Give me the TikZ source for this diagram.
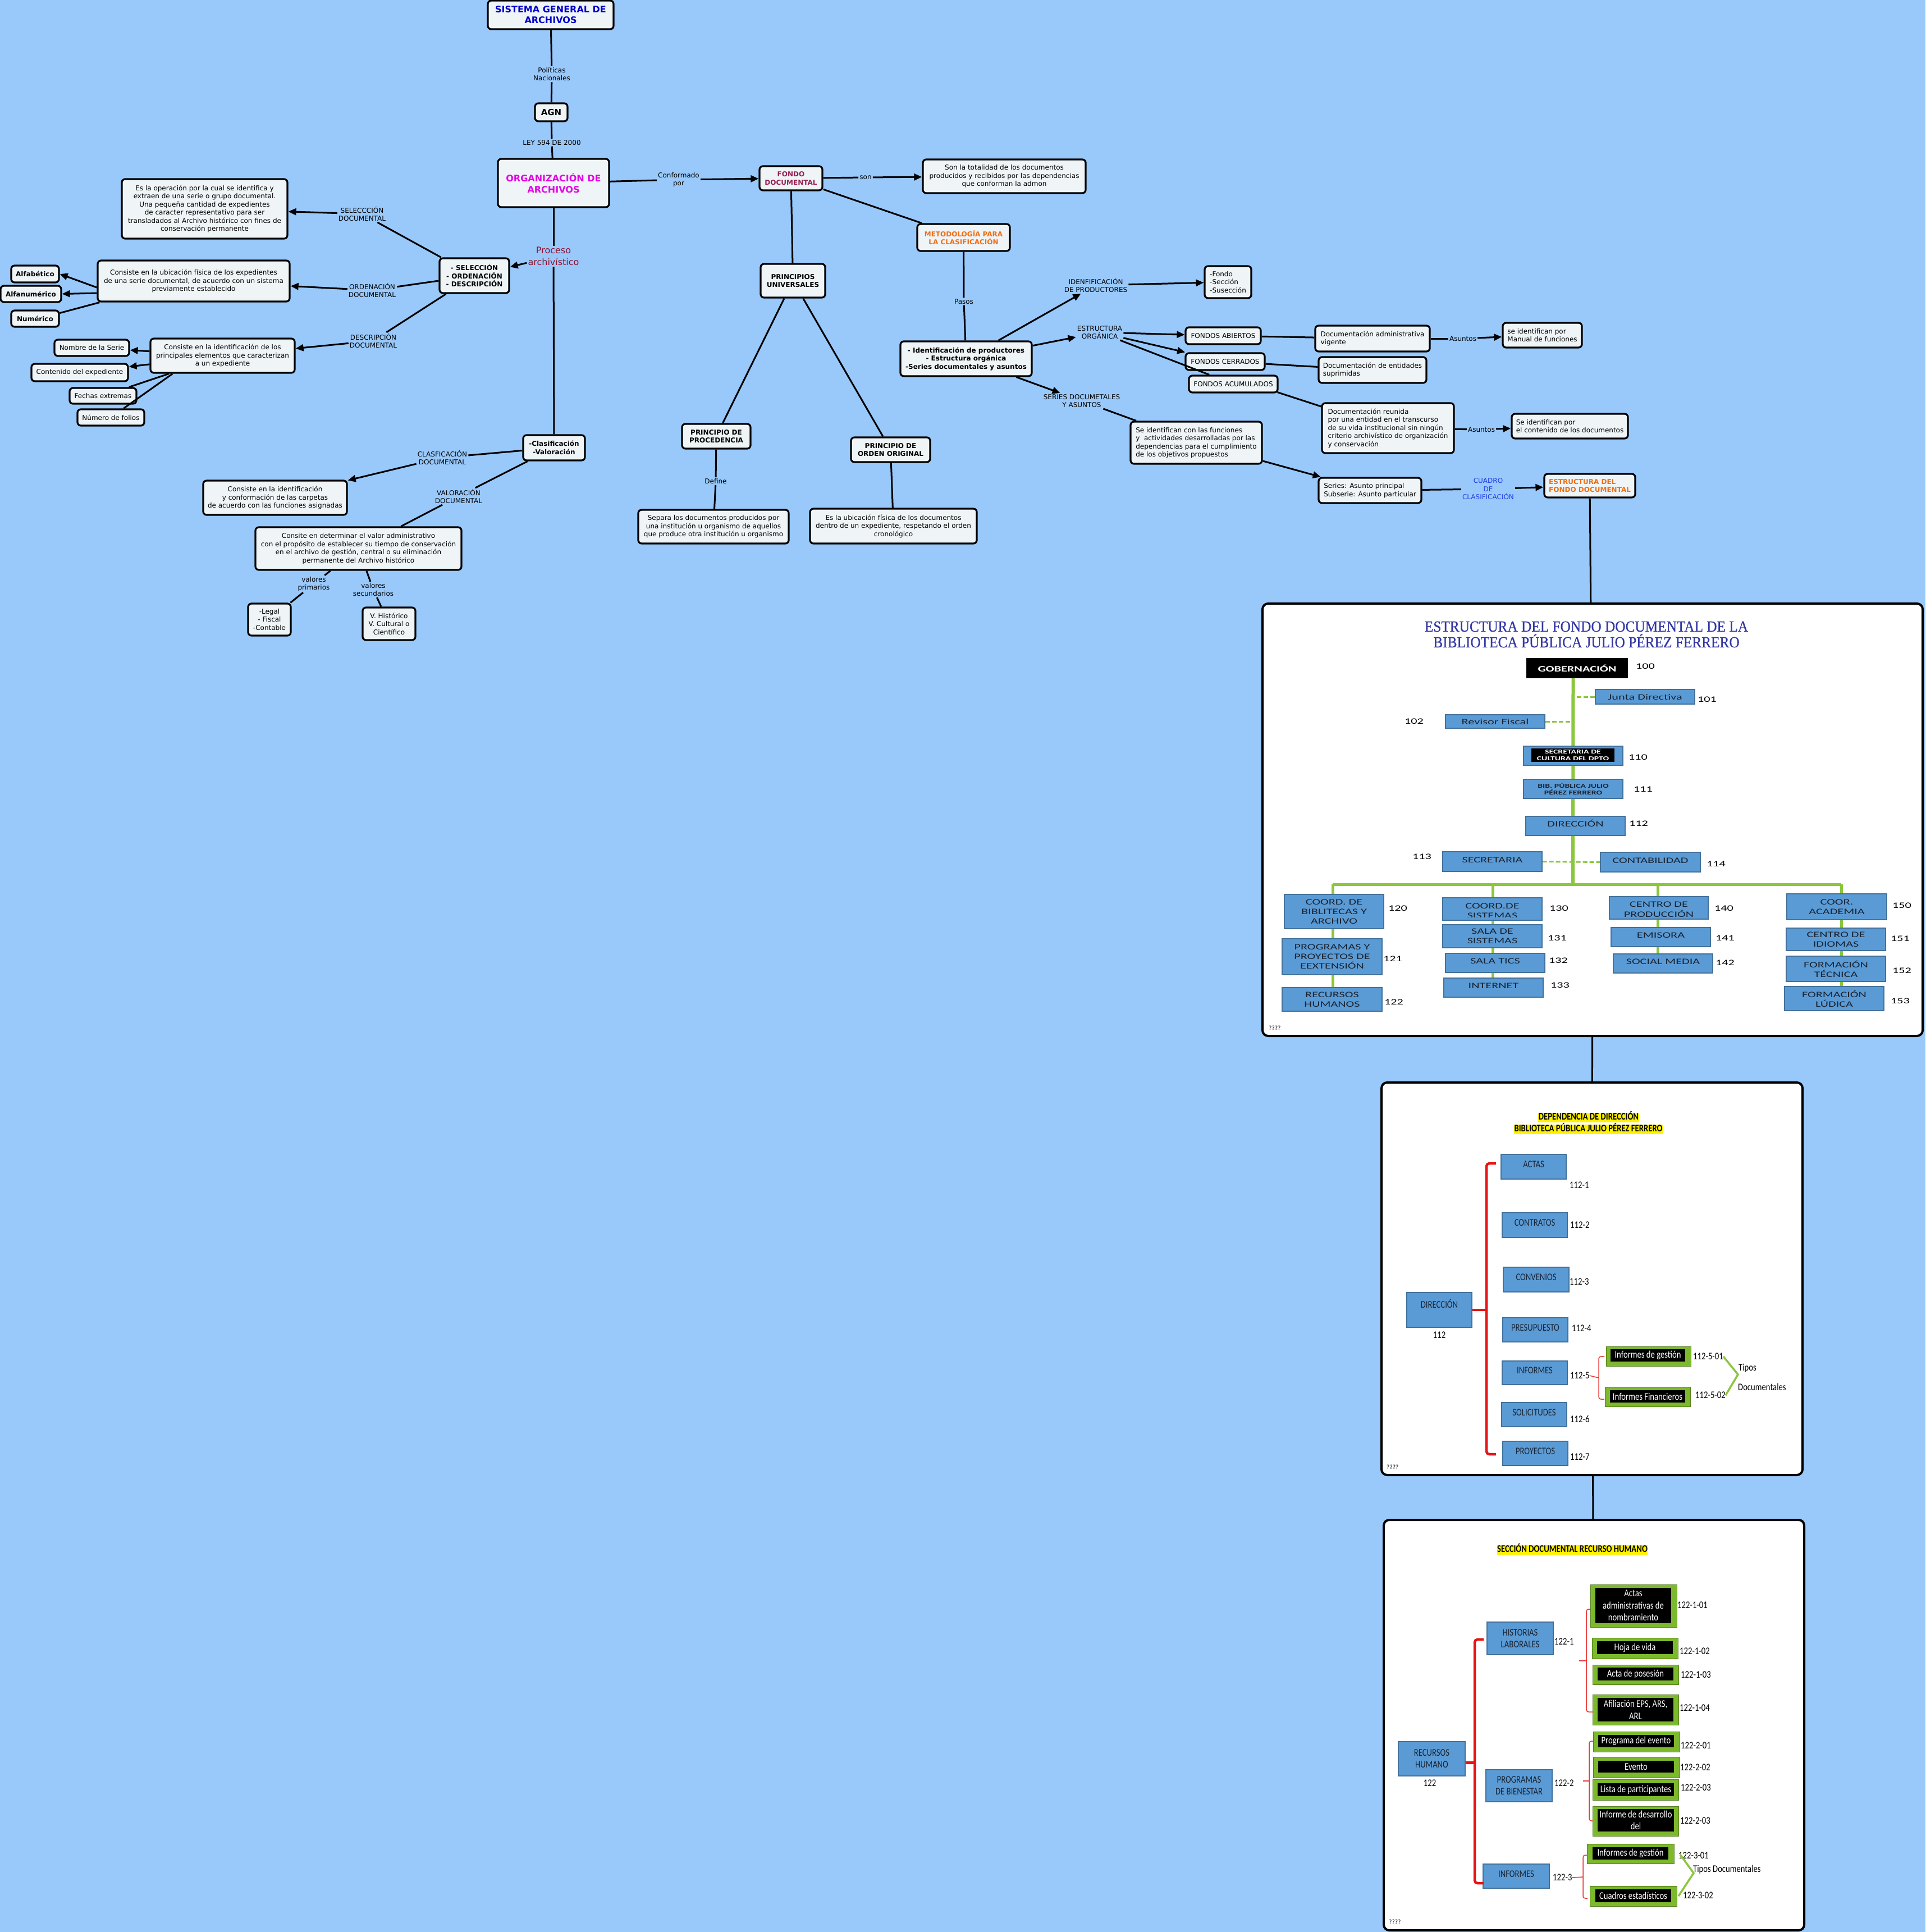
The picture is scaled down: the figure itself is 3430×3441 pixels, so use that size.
\documentclass[tikz,border=0pt]{standalone}
\usepackage{fontspec}
\setmainfont{DejaVu Sans}
\newfontfamily\pone[FakeStretch=1.5]{Carlito}
\newfontfamily\ptwo[FakeStretch=0.815]{Carlito}
\newfontfamily\ptitle[FakeStretch=0.92,FakeBold=0.6]{Liberation Serif}
\usetikzlibrary{arrows.meta}
\pgfdeclarelayer{back}
\pgfdeclarelayer{lines}
\pgfsetlayers{back,lines,main}
\definecolor{bgblue}{RGB}{153,201,251}
\definecolor{boxfill}{RGB}{239,244,246}
\definecolor{sgablue}{RGB}{0,0,204}
\definecolor{orgmag}{RGB}{230,0,230}
\definecolor{fondored}{RGB}{150,30,80}
\definecolor{procred}{RGB}{140,20,50}
\definecolor{orangeA}{RGB}{240,110,20}
\definecolor{cuadblue}{RGB}{30,60,230}
\definecolor{orgblue}{RGB}{91,155,213}
\definecolor{orgborder}{RGB}{65,113,156}
\definecolor{orgtext}{RGB}{25,35,50}
\definecolor{lgreen}{RGB}{140,198,63}
\definecolor{gboxc}{RGB}{125,185,45}
\definecolor{redb}{RGB}{230,20,20}
\definecolor{titleblue}{RGB}{50,55,165}
\newcommand\cfont{\fontsize{12}{14.5}\selectfont}
\tikzset{
 cbox/.style={draw=black, line width=3.2pt, rounded corners=6pt, fill=boxfill, align=center, inner sep=0pt, font=\cfont},
 cboxl/.style={cbox, align=left},
 hb/.style={cbox, font=\bfseries\cfont},
 lab/.style={align=center, inner sep=2pt, font=\cfont},
 conn/.style={line width=3pt, draw=black},
 arr/.style={conn, -{Triangle[length=14pt,width=12pt]}},
 panel/.style={draw=black, line width=4pt, rounded corners=10pt, fill=white, inner sep=0pt},
 ob/.style={rectangle, fill=orgblue, draw=orgborder, line width=1.2pt, text=orgtext, font=\pone\fontsize{14.8}{17}\selectfont, align=center, inner sep=0pt},
 obtop/.style={text height=10pt, text depth=7pt},
 onum/.style={font=\pone\fontsize{14.8}{17}\selectfont, inner sep=0pt, text=black},
 gline/.style={draw=lgreen, line width=5pt},
 gdash/.style={draw=lgreen, line width=3pt, dash pattern=on 8pt off 4pt},
 tb/.style={rectangle, fill=orgblue, draw=orgborder, line width=1.2pt, text=orgtext, font=\ptwo\fontsize{18}{21}\selectfont, align=center, inner sep=0pt},
 tbtop/.style={text height=12pt, text depth=8.5pt},
 tnum/.style={font=\ptwo\fontsize{18}{21}\selectfont, inner sep=0pt, text=black, anchor=west},
 gbox/.style={rectangle, fill=gboxc, draw=gboxc!70!black, line width=0.8pt, inner sep=0pt},
 kbox/.style={rectangle, fill=black, text=white, font=\ptwo\fontsize{18}{21.5}\selectfont, align=center, inner sep=0pt},
 redbr/.style={draw=redb, line width=4.5pt, rounded corners=5pt},
 redthin/.style={draw=redb!85!white, line width=1.5pt, rounded corners=4pt},
 gbr/.style={draw=lgreen, line width=3.5pt},
 hl/.style={fill=yellow, inner xsep=0.5pt, inner ysep=0pt, text height=13pt, text depth=4pt, font=\ptwo\bfseries\fontsize{18}{21}\selectfont},
 qq/.style={font=\fontsize{10}{12}\selectfont, inner sep=0pt, anchor=west},
}
\begin{document}
\begin{tikzpicture}[x=1pt,y=-1pt]
\useasboundingbox (0,0) rectangle (3430,3441);
\begin{pgfonlayer}{back}
\fill[bgblue] (0,0) rectangle (3430,3441);
\node[panel, minimum width=1176pt, minimum height=770pt] (p1) at (2837,1460) {};
\node[panel, minimum width=750pt, minimum height=699pt] (p2) at (2836,2277.5) {};
\node[panel, minimum width=749pt, minimum height=731pt] (p3) at (2839.5,3072.5) {};
\end{pgfonlayer}

% ---------------- concept map ----------------
\node[cbox, minimum width=224pt, minimum height=51pt, text=sgablue, font=\bfseries\fontsize{16}{19}\selectfont] (sga) at (981,26.5) {SISTEMA GENERAL DE\\ARCHIVOS};
\node[lab] (lpol) at (983,132) {Políticas\\Nacionales};
\node[cbox, minimum width=58pt, minimum height=32pt, font=\bfseries\fontsize{15}{18}\selectfont] (agn) at (982,200) {AGN};
\node[lab] (lley) at (983,254) {LEY 594 DE 2000};
\node[cbox, minimum width=198pt, minimum height=86pt, text=orgmag, font=\bfseries\fontsize{16}{19.5}\selectfont] (org) at (986,326) {ORGANIZACIÓN DE\\ARCHIVOS};
\node[lab, text=procred, font=\fontsize{16}{21}\selectfont] (lproc) at (986,456.5) {Proceso\\archivístico};
\node[hb, minimum width=124pt, minimum height=62pt] (sel) at (845,491) {- SELECCIÓN\\- ORDENACIÓN\\- DESCRIPCIÓN};
\node[cbox, minimum width=295pt, minimum height=106pt] (seldesc) at (364.5,372) {Es la operación por la cual se identifica y\\extraen de una serie o grupo documental.\\Una pequeña cantidad de expedientes\\de caracter representativo para ser\\transladados al Archivo histórico con fines de\\conservación permanente};
\node[lab] (lsel) at (645,381) {SELECCCIÓN\\DOCUMENTAL};
\node[cbox, minimum width=342pt, minimum height=73pt] (orddesc) at (345,500.5) {Consiste en la ubicación física de los expedientes\\de una serie documental, de acuerdo con un sistema\\previamente establecido};
\node[lab] (lord) at (663,517) {ORDENACIÓN\\DOCUMENTAL};
\node[hb, minimum width=85pt, minimum height=30pt] (alfab) at (62.5,488) {Alfabético};
\node[hb, minimum width=108pt, minimum height=29pt] (alfan) at (55,523.5) {Alfanumérico};
\node[hb, minimum width=85pt, minimum height=29pt] (numer) at (62.5,567.5) {Numérico};
\node[lab] (ldesc) at (665,607) {DESCRIPCIÓN\\DOCUMENTAL};
\node[cbox, minimum width=257pt, minimum height=61pt] (descdesc) at (396.5,633.5) {Consiste en la identificación de los\\principales elementos que caracterizan\\a un expediente};
\node[cbox, minimum width=133pt, minimum height=29pt] (nombre) at (163.5,619.5) {Nombre de la Serie};
\node[cbox, minimum width=172pt, minimum height=31pt] (conten) at (142,663.5) {Contenido del expediente};
\node[cbox, minimum width=119pt, minimum height=28pt] (fechas) at (183.5,705) {Fechas extremas};
\node[cbox, minimum width=119pt, minimum height=29pt] (folios) at (197.5,743.5) {Número de folios};
\node[hb, minimum width=110pt, minimum height=45pt] (clas) at (987,797.5) {-Clasificación\\-Valoración};
\node[lab] (lclas) at (788,815) {CLASFICACIÓN\\DOCUMENTAL};
\node[cbox, minimum width=256pt, minimum height=61pt] (clasdesc) at (490,886.5) {Consiste en la identificación\\y conformación de las carpetas\\de acuerdo con las funciones asignadas};
\node[lab] (lval) at (817,884) {VALORACIÓN\\DOCUMENTAL};
\node[cbox, minimum width=367pt, minimum height=76pt] (valdesc) at (638.5,977) {Consite en determinar el valor administrativo\\con el propósito de establecer su tiempo de conservación\\en el archivo de gestión, central o su eliminación\\permanente del Archivo histórico};
\node[lab] (lvp) at (559,1040) {valores\\primarios};
\node[cbox, minimum width=76pt, minimum height=57pt] (legal) at (480,1103.5) {-Legal\\- Fiscal\\-Contable};
\node[lab] (lvs) at (665,1050) {valores\\secundarios};
\node[cbox, minimum width=94pt, minimum height=58pt] (vhist) at (693,1111) {V. Histórico\\V. Cultural o\\Científico};

\node[lab] (lconf) at (1209,320) {Conformado\\por};
\node[hb, minimum width=112pt, minimum height=43pt, text=fondored] (fondo) at (1409,317.5) {FONDO\\DOCUMENTAL};
\node[lab] (lson) at (1542,316) {son};
\node[cbox, minimum width=290pt, minimum height=60pt] (sondesc) at (1789,314) {Son la totalidad de los documentos\\producidos y recibidos por las dependencias\\que conforman la admon};
\node[hb, minimum width=165pt, minimum height=48pt, text=orangeA] (metod) at (1716.5,423) {METODOLOGÍA PARA\\LA CLASIFICACIÓN};
\node[hb, minimum width=115pt, minimum height=60pt] (pu) at (1412.5,500) {PRINCIPIOS\\UNIVERSALES};
\node[hb, minimum width=122pt, minimum height=44pt] (proc) at (1276,777) {PRINCIPIO DE\\PROCEDENCIA};
\node[hb, minimum width=141pt, minimum height=44pt] (orden) at (1586.5,801) {PRINCIPIO DE\\ORDEN ORIGINAL};
\node[lab] (ldef) at (1275,857) {Define};
\node[cbox, minimum width=268pt, minimum height=60pt] (separa) at (1271,938) {Separa los documentos producidos por\\una institución u organismo de aquellos\\que produce otra institución u organismo};
\node[cbox, minimum width=297pt, minimum height=62pt] (ubic) at (1591.5,937) {Es la ubicación física de los documentos\\dentro de un expediente, respetando el orden\\cronológico};
\node[lab] (lpasos) at (1717,537) {Pasos};
\node[hb, minimum width=234pt, minimum height=62pt] (idb) at (1721,639) {- Identificación de productores\\- Estructura orgánica\\-Series documentales y asuntos};
\node[lab] (lidf) at (1952,508) {IDENFIFICACIÓN\\DE PRODUCTORES};
\node[cboxl, minimum width=83pt, minimum height=57pt] (fss) at (2187.5,502.5) {-Fondo\\-Sección\\-Susección};
\node[lab] (lest) at (1959,592) {ESTRUCTURA\\ORGÁNICA};
\node[cbox, minimum width=134pt, minimum height=30pt] (fab) at (2179,598) {FONDOS ABIERTOS};
\node[cbox, minimum width=141pt, minimum height=30pt] (fce) at (2182.5,644) {FONDOS CERRADOS};
\node[cbox, minimum width=158pt, minimum height=30pt] (fac) at (2197,684) {FONDOS ACUMULADOS};
\node[cboxl, minimum width=204pt, minimum height=46pt] (docadm) at (2445,603) {Documentación administrativa\\vigente};
\node[lab] (las1) at (2606,603) {Asuntos};
\node[cboxl, minimum width=141pt, minimum height=44pt] (manual) at (2747.5,597) {se identifican por\\Manual de funciones};
\node[cboxl, minimum width=192pt, minimum height=46pt] (docsup) at (2445,659) {Documentación de entidades\\suprimidas};
\node[cboxl, minimum width=235pt, minimum height=89pt] (docreun) at (2472.5,762.5) {Documentación reunida\\por una entidad en el transcurso\\de su vida institucional sin ningún\\criterio archivístico de organización\\y conservación};
\node[lab] (las2) at (2639,765) {Asuntos};
\node[cboxl, minimum width=207pt, minimum height=44pt] (contd) at (2796.5,759) {Se identifican por\\el contenido de los documentos};
\node[lab] (lser) at (1927,714) {SERIES DOCUMETALES\\Y ASUNTOS};
\node[cboxl, minimum width=234pt, minimum height=75pt] (seid) at (2131,788.5) {Se identifican con las funciones\\y\ \ actividades desarrolladas por las\\dependencias para el cumplimiento\\de los objetivos propuestos};
\node[cboxl, minimum width=183pt, minimum height=45pt] (series) at (2440.5,873.5) {Series: Asunto principal\\Subserie: Asunto particular};
\node[lab, text=cuadblue] (lcuad) at (2651,871) {CUADRO\\DE\\CLASIFICACIÓN};
\node[hb, align=left, minimum width=162pt, minimum height=42pt, text=orangeA] (estr) at (2832,865) {ESTRUCTURA DEL\\FONDO DOCUMENTAL};

% connectors
\draw[conn] (sga) -- (lpol);
\draw[conn] (lpol) -- (agn);
\draw[conn] (agn) -- (lley);
\draw[conn] (lley) -- (org);
\draw[conn] (org) -- (lproc);
\draw[arr] (lproc) -- (sel);
\draw[conn] (lproc) -- (clas);
\draw[conn] (sel) -- (lsel);
\draw[arr] (lsel) -- (seldesc);
\draw[conn] (sel) -- (lord);
\draw[arr] (lord) -- (orddesc);
\draw[arr] ([yshift=-11.5pt]orddesc.west) -- (alfab.east);
\draw[arr] ([yshift=-21.5pt]orddesc.west) -- (alfan.east);
\draw[conn] ([xshift=5pt]orddesc.south west) -- ([yshift=10pt]numer.east);
\draw[conn] (sel) -- (ldesc);
\draw[arr] (ldesc) -- (descdesc);
\draw[arr] (descdesc) -- (nombre);
\draw[arr] (descdesc) -- (conten);
\draw[conn] (descdesc) -- (fechas);
\draw[conn] ([xshift=41pt]descdesc.south west) -- (folios);
\draw[conn] (clas) -- (lclas);
\draw[arr] (lclas) -- (clasdesc);
\draw[conn] (clas) -- (lval);
\draw[conn] (lval) -- (valdesc);
\draw[conn] (valdesc) -- (lvp);
\draw[conn] (lvp) -- (legal);
\draw[conn] (valdesc) -- (lvs);
\draw[conn] (lvs) -- (vhist);
\draw[conn] (org) -- (lconf);
\draw[arr] (lconf) -- (fondo);
\draw[conn] (fondo) -- (lson);
\draw[arr] (lson) -- (sondesc);
\draw[conn] (fondo) -- (metod);
\draw[conn] (fondo) -- (pu);
\draw[conn] (pu) -- (proc);
\draw[conn] (pu) -- (orden);
\draw[conn] (proc) -- (ldef);
\draw[conn] (ldef) -- (separa);
\draw[conn] (orden) -- (ubic);
\draw[conn] (metod) -- (lpasos);
\draw[conn] (lpasos) -- (idb);
\draw[arr] (idb) -- (lidf);
\draw[arr] (lidf) -- (fss);
\draw[arr] (idb) -- (lest);
\draw[arr] (lest) -- (fab);
\draw[arr] (lest) -- (fce);
\draw[conn] (lest) -- (fac);
\draw[conn] (fab) -- (docadm);
\draw[conn] (docadm) -- (las1);
\draw[arr] (las1) -- (manual);
\draw[conn] (fce) -- (docsup);
\draw[conn] ([xshift=-2pt,yshift=2pt]fac.south east) -- (docreun);
\draw[conn] (docreun) -- (las2);
\draw[arr] (las2) -- (contd);
\draw[arr] (idb) -- (lser);
\draw[conn] (lser) -- (seid);
\draw[arr] (seid) -- (series);
\draw[conn] (series) -- (lcuad);
\draw[arr] (lcuad) -- (estr);
\draw[conn] (estr) -- (p1);
\draw[conn] (p1) -- (p2);
\draw[conn] (p2) -- (p3);

% ---------------- panel 1 ----------------
\node[font=\ptitle\fontsize{27.5}{28}\selectfont, text=titleblue, align=center, inner sep=0pt] (t1) at (2826,1130) {ESTRUCTURA DEL FONDO DOCUMENTAL DE LA\\BIBLIOTECA PÚBLICA JULIO PÉREZ FERRERO};
\node[ob, fill=black, draw=black, text=white, font=\pone\bfseries\fontsize{14.8}{17}\selectfont, minimum width=179pt, minimum height=34pt] (gob) at (2809.5,1190) {GOBERNACIÓN};
\node[onum] (n100) at (2931,1187) {100};
\node[ob, minimum width=177pt, minimum height=26pt] (junta) at (2930.5,1241) {Junta Directiva};
\node[onum] (n101) at (3041,1246) {101};
\node[ob, minimum width=177pt, minimum height=24pt] (revisor) at (2663.5,1285) {Revisor Fiscal};
\node[onum] (n102) at (2519,1285) {102};
\node[ob, minimum width=177pt, minimum height=34pt] (scult) at (2802.5,1346) {};
\node[fill=black, text=white, minimum width=148pt, minimum height=24pt, inner sep=0pt, align=center, font=\pone\bfseries\fontsize{10.5}{12.3}\selectfont] (scultin) at (2802,1345) {SECRETARIA DE\\CULTURA DEL DPTO};
\node[onum] (n110) at (2918,1349) {110};
\node[ob, minimum width=177pt, minimum height=34pt, font=\pone\bfseries\fontsize{10.5}{12.3}\selectfont] (bib) at (2802.5,1405) {BIB. PÚBLICA JULIO\\PÉREZ FERRERO};
\node[onum] (n111) at (2927,1406) {111};
\node[ob, obtop, minimum width=177pt, minimum height=34pt] (dir1) at (2806.5,1471) {DIRECCIÓN};
\node[onum] (n112) at (2919,1467) {112};
\node[ob, obtop, minimum width=177pt, minimum height=35pt] (secr) at (2658.5,1534.5) {SECRETARIA};
\node[onum] (n113) at (2533,1526) {113};
\node[ob, obtop, minimum width=178pt, minimum height=35pt] (cont) at (2940,1535.5) {CONTABILIDAD};
\node[onum] (n114) at (3057,1539) {114};

\node[ob, minimum width=177pt, minimum height=61pt] (c120) at (2376.5,1623.5) {COORD. DE\\BIBLITECAS Y\\ARCHIVO};
\node[onum] (n120) at (2490,1618) {120};
\node[ob, minimum width=178pt, minimum height=64pt] (c121) at (2373,1704) {PROGRAMAS Y\\PROYECTOS DE\\EEXTENSIÓN};
\node[onum] (n121) at (2481,1708) {121};
\node[ob, minimum width=178pt, minimum height=42pt] (c122) at (2373,1780) {RECURSOS\\HUMANOS};
\node[onum] (n122) at (2483,1785) {122};

\node[ob, minimum width=177pt, minimum height=40pt] (c130) at (2658.5,1619) {};
\begin{scope}
\clip (2571,1600) rectangle (2746,1633);
\node[anchor=base, inner sep=0pt, text=orgtext, font=\pone\fontsize{14.8}{17}\selectfont] (c130a) at (2658.5,1618) {COORD.DE};
\node[anchor=base, inner sep=0pt, text=orgtext, font=\pone\fontsize{14.8}{17}\selectfont] (c130b) at (2658.5,1635) {SISTEMAS};
\end{scope}
\node[onum] (n130) at (2777,1618) {130};
\node[ob, minimum width=177pt, minimum height=41pt] (c131) at (2658.5,1667.5) {SALA DE\\SISTEMAS};
\node[onum] (n131) at (2774,1671) {131};
\node[ob, obtop, minimum width=177pt, minimum height=34pt] (c132) at (2663.5,1715) {SALA TICS};
\node[onum] (n132) at (2776,1711) {132};
\node[ob, obtop, minimum width=177pt, minimum height=34pt] (c133) at (2660.5,1759) {INTERNET};
\node[onum] (n133) at (2779,1755) {133};

\node[ob, minimum width=176pt, minimum height=40pt] (c140) at (2955,1617) {};
\begin{scope}
\clip (2868,1598) rectangle (3042,1632);
\node[anchor=base, inner sep=0pt, text=orgtext, font=\pone\fontsize{14.8}{17}\selectfont] (c140a) at (2955,1615) {CENTRO DE};
\node[anchor=base, inner sep=0pt, text=orgtext, font=\pone\fontsize{14.8}{17}\selectfont] (c140b) at (2955,1633.5) {PRODUCCIÓN};
\end{scope}
\node[onum] (n140) at (3071,1618) {140};
\node[ob, obtop, minimum width=177pt, minimum height=34pt] (c141) at (2958.5,1669) {EMISORA};
\node[onum] (n141) at (3073,1671) {141};
\node[ob, obtop, minimum width=177pt, minimum height=34pt] (c142) at (2962.5,1716) {SOCIAL MEDIA};
\node[onum] (n142) at (3073,1715) {142};

\node[ob, minimum width=178pt, minimum height=46pt] (c150) at (3272,1615) {COOR.\\ACADEMIA};
\node[onum] (n150) at (3388,1613) {150};
\node[ob, minimum width=177pt, minimum height=40pt] (c151) at (3270.5,1673) {CENTRO DE\\IDIOMAS};
\node[onum] (n151) at (3385,1672) {151};
\node[ob, minimum width=177pt, minimum height=45pt] (c152) at (3270.5,1725.5) {FORMACIÓN\\TÉCNICA};
\node[onum] (n152) at (3388,1729) {152};
\node[ob, minimum width=177pt, minimum height=43pt] (c153) at (3267.5,1778.5) {FORMACIÓN\\LÚDICA};
\node[onum] (n153) at (3385,1783) {153};
\node[qq] (q1) at (2260,1831) {????};

\coordinate (bus) at (2802,1575);
\coordinate (k1) at (2374,1575);
\coordinate (k2) at (2659,1575);
\coordinate (k3) at (2953,1575);
\coordinate (k4) at (3280,1575);
\begin{pgfonlayer}{lines}
\draw[gline, line width=6pt] (gob.south -| bib) -- (bus);
\draw[gline] (k1) -- (k4);
\draw[gline] (k1) -- (k1 |- c122);
\draw[gline] (k2) -- (k2 |- c133);
\draw[gline] (k3) -- (k3 |- c142);
\draw[gline] (k4) -- (k4 |- c153);
\draw[gdash] (junta.west) -- (junta.west -| bib);
\draw[gdash] (revisor.east) -- (revisor.east -| bib);
\draw[gdash] (secr.east) -- (cont.west);
\end{pgfonlayer}

% ---------------- panel 2 ----------------
\node[hl] (h21) at (2830,1990) {DEPENDENCIA DE DIRECCIÓN};
\node[hl] (h22) at (2829.5,2011) {BIBLIOTECA PÚBLICA JULIO PÉREZ FERRERO};
\node[tb, text height=12pt, text depth=20pt, minimum width=116pt, minimum height=62pt] (dir2) at (2564,2333) {DIRECCIÓN};
\node[tnum, anchor=center] (m112) at (2564,2378) {112};
\node[tb, tbtop, minimum width=116pt, minimum height=44pt] (actas) at (2732,2078) {ACTAS};
\node[tb, tbtop, minimum width=116pt, minimum height=44pt] (contr) at (2734,2182) {CONTRATOS};
\node[tb, tbtop, minimum width=117pt, minimum height=44pt] (conv) at (2736.5,2279) {CONVENIOS};
\node[tb, tbtop, minimum width=116pt, minimum height=43pt] (presu) at (2735,2368.5) {PRESUPUESTO};
\node[tb, tbtop, minimum width=116pt, minimum height=42pt] (infor) at (2734,2445) {INFORMES};
\node[tb, tbtop, minimum width=116pt, minimum height=43pt] (solic) at (2733,2519.5) {SOLICITUDES};
\node[tb, tbtop, minimum width=116pt, minimum height=43pt] (proye) at (2735,2588.5) {PROYECTOS};
\node[tnum] (m1121) at (2796,2110.5) {112-1};
\node[tnum] (m1122) at (2797,2182) {112-2};
\node[tnum] (m1123) at (2796,2283) {112-3};
\node[tnum] (m1124) at (2800,2366) {112-4};
\node[tnum] (m1125) at (2797,2450) {112-5};
\node[tnum] (m1126) at (2797,2527) {112-6};
\node[tnum] (m1127) at (2797,2595) {112-7};
\node[gbox, minimum width=151pt, minimum height=35pt] (g51o) at (2936.5,2415.5) {};
\node[kbox, minimum width=133pt, minimum height=22pt] (g51) at (2935.5,2414) {Informes de gestión};
\node[gbox, minimum width=152pt, minimum height=35pt] (g52o) at (2935,2487.5) {};
\node[kbox, minimum width=134pt, minimum height=22pt] (g52) at (2935,2487) {Informes Financieros};
\node[tnum] (m11251) at (3016,2416) {112-5-01};
\node[tnum] (m11252) at (3020,2485) {112-5-02};
\node[tnum] (tip2) at (3097,2437) {Tipos};
\node[tnum] (doc2) at (3096,2470) {Documentales};
\draw[redbr] (2665,2072) -- (2648,2072) -- (2648,2590) -- (2665,2590);
\draw[redbr] (dir2.east) -- ++(27,0);
\draw[redthin] (m1125.east) -- (2848,2454);
\draw[redthin] (2858,2416) -- (2848,2416) -- (2848,2492) -- (2858,2492);
\draw[gbr] (m11251.east) -- (3096,2448) -- (m11252.east);
\node[qq] (q2) at (2470,2613) {????};

% ---------------- panel 3 ----------------
\node[hl] (h3) at (2801,2760) {SECCIÓN DOCUMENTAL RECURSO HUMANO};
\node[tb, minimum width=119pt, minimum height=61pt] (rh) at (2550.5,3132.5) {RECURSOS\\HUMANO};
\node[tnum, anchor=center] (r122) at (2547,3176) {122};
\node[tb, minimum width=118pt, minimum height=58pt] (hl3) at (2708,2918) {HISTORIAS\\LABORALES};
\node[tb, minimum width=118pt, minimum height=57pt] (pb3) at (2706,3180.5) {PROGRAMAS\\DE BIENESTAR};
\node[tb, tbtop, minimum width=118pt, minimum height=43pt] (inf3) at (2701,3341.5) {INFORMES};
\node[tnum] (r1221) at (2769,2924) {122-1};
\node[tnum] (r1222) at (2769,3176) {122-2};
\node[tnum] (r1223) at (2766,3344) {122-3};
\draw[redbr] (2643,2920) -- (2627,2920) -- (2627,3354) -- (2643,3354);
\draw[redbr] ([yshift=-7pt]rh.east) -- ++(17,0);
\draw[redthin] (2813,2958) -- (2826,2958);
\draw[redthin] (2837,2866) -- (2826,2866) -- (2826,3049) -- (2837,3049);
\draw[redthin] (2820,3172) -- (2831,3172);
\draw[redthin] (2839,3101) -- (2831,3101) -- (2831,3243) -- (2839,3243);
\draw[redthin] (r1223.east) -- (2820,3343);
\draw[redthin] (2828,3304) -- (2820,3304) -- (2820,3381) -- (2828,3381);

\node[gbox, minimum width=154pt, minimum height=76pt] (g1o) at (2910,2860) {};
\node[kbox, minimum width=135pt, minimum height=63pt] (g1) at (2909.5,2859.5) {Actas\\administrativas de\\nombramiento};
\node[gbox, minimum width=153pt, minimum height=37pt] (g2o) at (2912.5,2935.5) {};
\node[kbox, minimum width=135pt, minimum height=23pt] (g2) at (2912.5,2934.5) {Hoja de vida};
\node[gbox, minimum width=153pt, minimum height=35pt] (g3o) at (2913.5,2982.5) {};
\node[kbox, minimum width=135pt, minimum height=23pt] (g3) at (2913.5,2981.5) {Acta de posesión};
\node[gbox, minimum width=153pt, minimum height=54pt] (g4o) at (2913.5,3045) {};
\node[kbox, minimum width=135pt, minimum height=42pt] (g4) at (2913.5,3045) {Afiliación EPS, ARS,\\ARL};
\node[gbox, minimum width=154pt, minimum height=36pt] (g5o) at (2915,3102) {};
\node[kbox, minimum width=135pt, minimum height=22pt] (g5) at (2914.5,3101) {Programa del evento};
\node[gbox, minimum width=154pt, minimum height=37pt] (g6o) at (2915,3147.5) {};
\node[kbox, minimum width=135pt, minimum height=21pt] (g6) at (2914.5,3146.5) {Evento};
\node[gbox, minimum width=153pt, minimum height=37pt] (g7o) at (2913.5,3187.5) {};
\node[kbox, minimum width=136pt, minimum height=23pt] (g7) at (2914,3187.5) {Lista de participantes};
\node[gbox, minimum width=153pt, minimum height=53pt] (g8o) at (2913.5,3243.5) {};
\node[kbox, minimum width=136pt, minimum height=40pt] (g8) at (2914,3242) {Informe de desarrollo\\del};
\node[gbox, minimum width=155pt, minimum height=35pt] (g9o) at (2904.5,3301.5) {};
\node[kbox, minimum width=135pt, minimum height=22pt] (g9) at (2904.5,3301) {Informes de gestión};
\node[gbox, minimum width=155pt, minimum height=36pt] (g10o) at (2909.5,3377) {};
\node[kbox, minimum width=135pt, minimum height=23pt] (g10) at (2909.5,3376.5) {Cuadros estadísticos};
\node[tnum] (r12211) at (2988,2859) {122-1-01};
\node[tnum] (r12212) at (2992,2941) {122-1-02};
\node[tnum] (r12213) at (2994,2983) {122-1-03};
\node[tnum] (r12214) at (2992,3042) {122-1-04};
\node[tnum] (r12221) at (2994,3109) {122-2-01};
\node[tnum] (r12222) at (2993,3148) {122-2-02};
\node[tnum] (r12223) at (2994,3184) {122-2-03};
\node[tnum] (r12224) at (2993,3243) {122-2-03};
\node[tnum] (r12231) at (2990,3305) {122-3-01};
\node[tnum] (r12232) at (2998,3376) {122-3-02};
\node[tnum] (tip3) at (3016,3330) {Tipos Documentales};
\draw[gbr] (2993,3303) -- (3017,3336) -- (2990,3377);
\node[qq] (q3) at (2474,3423) {????};
\end{tikzpicture}
\end{document}
